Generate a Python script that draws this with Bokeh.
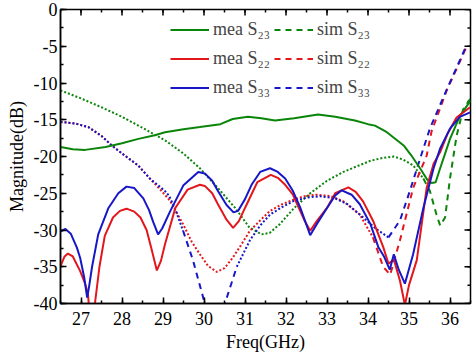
from bokeh.plotting import figure
from bokeh.models import Range1d, FixedTicker, Legend, LegendItem
from bokeh.embed import file_html
from bokeh.resources import INLINE
import numpy as np

# ---------------- data ----------------
mea_S23_f = [26.5, 26.8, 27.1, 27.6, 28.0, 28.4, 28.8, 29.05, 29.5, 29.9, 30.4, 30.7, 31.07, 31.4,
             31.73, 32.2, 32.78, 33.2, 33.68, 34.0, 34.17, 34.46, 34.87, 35.05, 35.27, 35.45, 35.55,
             35.65, 35.76, 35.88, 36.0, 36.24, 36.5]
mea_S23 = [-18.7, -19.0, -19.1, -18.7, -18.2, -17.6, -17.1, -16.7, -16.3, -16.0, -15.6, -14.9, -14.6,
           -14.8, -15.1, -14.8, -14.3, -14.6, -15.1, -15.6, -15.8, -16.7, -18.5, -19.8, -21.6, -23.2,
           -23.6, -23.5, -21.6, -19.6, -17.6, -14.5, -12.4]

mea_S22_f = [26.5, 26.6, 26.68, 26.8, 26.98, 27.1, 27.17, 27.26, 27.34, 27.45, 27.58, 27.78, 27.95,
             28.11, 28.3, 28.45, 28.6, 28.72, 28.85, 28.95, 29.05, 29.3, 29.6, 29.9, 30.02, 30.2, 30.34,
             30.55, 30.71, 30.85, 31.0, 31.3, 31.63, 31.8, 31.98, 32.17, 32.29, 32.45, 32.59, 32.75,
             33.0, 33.2, 33.52, 33.7, 33.88, 34.12, 34.37, 34.5, 34.63, 34.78, 34.9, 35.0, 35.19,
             35.43, 35.6, 35.76, 35.95, 36.16, 36.49]
mea_S22 = [-34.9, -33.6, -33.2, -33.6, -35.6, -37.3, -38.7, -45.0, -40.0, -35.0, -30.8, -28.3, -27.4,
           -27.1, -27.5, -28.3, -30.0, -32.6, -35.5, -34.2, -31.9, -27.0, -24.5, -23.85, -24.0, -25.0,
           -26.5, -28.6, -29.7, -28.8, -27.0, -23.5, -22.5, -22.9, -23.85, -25.2, -26.7, -28.7, -30.1,
           -28.8, -27.0, -25.0, -24.2, -24.8, -26.1, -28.7, -32.3, -34.6, -34.0, -36.9, -40.2, -37.5,
           -34.1, -24.3, -21.0, -19.4, -16.8, -14.7, -13.3]

mea_S33_f = [26.5, 26.62, 26.75, 26.9, 26.98, 27.08, 27.15, 27.2, 27.27, 27.42, 27.67, 27.91, 28.11,
             28.3, 28.52, 28.66, 28.76, 28.88, 28.98, 29.17, 29.5, 29.86, 30.02, 30.2, 30.34, 30.55,
             30.72, 30.83, 31.0, 31.16, 31.37, 31.61, 31.8, 31.98, 32.17, 32.35, 32.59, 32.75, 33.0,
             33.2, 33.36, 33.6, 33.8, 34.06, 34.25, 34.39, 34.53, 34.63, 34.75, 34.9, 35.1, 35.35,
             35.6, 35.76, 36.0, 36.24, 36.49]
mea_S33 = [-30.2, -29.85, -30.5, -32.4, -33.8, -36.5, -39.2, -37.6, -35.0, -30.6, -27.0, -25.0, -24.1,
           -24.3, -25.7, -27.3, -28.9, -30.6, -29.8, -27.5, -23.9, -22.1, -22.3, -23.3, -24.7, -26.6,
           -27.6, -27.4, -25.8, -23.85, -22.1, -21.6, -22.1, -23.0, -24.7, -27.0, -30.7, -29.2, -27.0,
           -25.3, -24.6, -25.2, -26.5, -29.2, -32.3, -33.6, -35.4, -33.3, -35.4, -37.3, -33.3, -27.0,
           -21.6, -18.9, -16.2, -14.6, -14.0]

sim_S23_f = [26.5, 27.0, 27.5, 28.0, 28.5, 29.05, 29.5, 29.9, 30.34, 30.76, 31.1, 31.4, 31.6, 31.85,
             32.2, 32.59, 33.0, 33.4, 33.7, 34.05, 34.35, 34.62, 34.85, 35.1, 35.35, 35.51, 35.67,
             35.76, 35.88, 36.0, 36.16, 36.32, 36.49]
sim_S23 = [-11.0, -12.1, -13.3, -14.6, -16.1, -17.8, -19.6, -21.6, -24.3, -27.0, -29.6, -30.6, -30.4,
           -29.2, -27.0, -25.0, -23.3, -22.1, -21.4, -20.6, -20.2, -20.0, -20.4, -21.2, -23.0, -24.7,
           -27.9, -29.4, -28.3, -23.0, -17.2, -13.6, -12.2]

sim_S22_f = [26.5, 26.85, 27.18, 27.5, 27.75, 28.05, 28.39, 28.68, 28.95, 29.17, 29.49, 29.7, 29.9,
             30.1, 30.31, 30.5, 30.71, 30.92, 31.12, 31.37, 31.61, 31.9, 32.17, 32.45, 32.75, 33.1,
             33.4, 33.8, 34.12, 34.37, 34.54, 34.78, 35.1, 35.43, 35.55, 35.92, 36.2, 36.41]
sim_S22 = [-15.3, -15.5, -16.0, -17.2, -18.5, -19.8, -21.2, -23.0, -24.6, -26.0, -29.2, -31.6, -33.3,
           -34.9, -35.7, -35.2, -33.7, -31.9, -30.1, -28.7, -27.4, -26.5, -25.9, -25.4, -25.2, -25.4,
           -26.1, -27.9, -31.0, -35.0, -36.1, -31.4, -24.3, -19.9, -16.6, -11.0, -7.6, -5.0]

sim_S33_f = [26.5, 26.85, 27.18, 27.5, 27.75, 28.05, 28.39, 28.68, 28.9, 29.09, 29.17, 29.3, 29.49,
             29.73, 30.02, 30.15, 30.27, 30.4, 30.51, 30.8, 31.12, 31.37, 31.61, 31.9, 32.17, 32.5,
             32.83, 33.2, 33.5, 33.8, 34.21, 34.5, 34.78, 35.02, 35.27, 35.51, 35.92, 36.41]
sim_S33 = [-15.3, -15.5, -16.0, -17.2, -18.5, -19.8, -21.2, -23.0, -24.0, -24.9, -25.6, -27.2, -30.1,
           -34.1, -40.0, -44.0, -47.0, -44.0, -40.0, -35.0, -31.4, -29.4, -27.9, -26.9, -26.1, -25.6,
           -25.4, -25.7, -26.5, -27.9, -29.9, -31.0, -28.7, -24.7, -20.3, -16.2, -10.9, -4.8]

# where each simulated trace is drawn dotted / dashed (frequency bounds)
sim_S23_styles = [(26.5, 35.35, "dot"), (35.35, 36.5, "dash")]
sim_S22_styles = [(26.5, 34.12, "dot"), (34.12, 36.5, "dash")]
sim_S33_styles = [(26.5, 29.49, "dot"), (29.49, 30.8, "dash"), (30.8, 34.5, "dot"), (34.5, 36.5, "dash")]

x_ticks = [27, 28, 29, 30, 31, 32, 33, 34, 35, 36]
y_ticks = [0, -5, -10, -15, -20, -25, -30, -35, -40]
X_MIN, X_MAX, Y_MIN, Y_MAX = 26.5, 36.5, -40, 0

GREEN, RED, BLUE = "#0a850a", "#e3161c", "#1717c8"
FONT = "Liberation Serif"
DASHES = {"dot": "2 2", "dash": "6 5"}

p = figure(width=474, height=354, output_backend="svg", toolbar_location=None,
           x_range=Range1d(X_MIN, X_MAX), y_range=Range1d(Y_MIN, Y_MAX),
           min_border_left=60, min_border_right=4, min_border_top=9, min_border_bottom=47)
p.xgrid.visible = False
p.ygrid.visible = False
p.outline_line_color = "black"
p.outline_line_width = 1.5
p.background_fill_color = "white"
p.border_fill_color = "white"

x_minor = list(np.arange(X_MIN, X_MAX + 0.01, 0.5))
y_minor = list(np.arange(Y_MIN, Y_MAX + 0.01, 2.5))


def style_axis(ax):
    ax.axis_line_width = 1.5
    ax.major_tick_in = 6
    ax.major_tick_out = 0
    ax.minor_tick_in = 3
    ax.minor_tick_out = 0
    ax.major_tick_line_width = 1.5
    ax.minor_tick_line_width = 1.5
    ax.major_label_text_font = FONT
    ax.major_label_text_font_size = "18px"
    ax.major_label_text_color = "black"
    ax.axis_label_text_font = FONT
    ax.axis_label_text_font_size = "18px"
    ax.axis_label_text_font_style = "normal"
    ax.axis_label_text_color = "black"


p.xaxis.ticker = FixedTicker(ticks=x_ticks, minor_ticks=x_minor)
p.yaxis.ticker = FixedTicker(ticks=y_ticks, minor_ticks=y_minor)
p.xaxis.axis_label = "Freq(GHz)"
p.yaxis.axis_label = "Magnitude(dB)"
p.xaxis.major_label_overrides = {t: str(t) for t in x_ticks}
p.yaxis.major_label_overrides = {t: str(t) for t in y_ticks}
p.xaxis.major_label_standoff = 8
p.yaxis.major_label_standoff = 3
p.xaxis.axis_label_standoff = 4
p.yaxis.axis_label_standoff = 4
style_axis(p.xaxis[0])
style_axis(p.yaxis[0])

# inward ticks on the top and right frame edges (no labels there)
tick_kw = dict(line_color="black", line_width=1.5, length_units="screen")
p.ray(x=x_ticks, y=[Y_MAX] * len(x_ticks), length=6, angle=-np.pi / 2, **tick_kw)
p.ray(x=x_minor, y=[Y_MAX] * len(x_minor), length=3, angle=-np.pi / 2, **tick_kw)
p.ray(x=[X_MAX] * len(y_ticks), y=y_ticks, length=6, angle=np.pi, **tick_kw)
p.ray(x=[X_MAX] * len(y_minor), y=y_minor, length=3, angle=np.pi, **tick_kw)


def draw_sim(f, v, styles, color):
    f = np.asarray(f)
    v = np.asarray(v)
    rends = {}
    for lo, hi, kind in styles:
        m = (f >= lo - 1e-9) & (f <= hi + 1e-9)
        r = p.line(f[m], v[m], line_color=color, line_width=2, line_dash=DASHES[kind])
        rends[kind] = r
    return rends["dash"]


leg_sim23 = draw_sim(sim_S23_f, sim_S23, sim_S23_styles, GREEN)
leg_sim22 = draw_sim(sim_S22_f, sim_S22, sim_S22_styles, RED)
leg_sim33 = draw_sim(sim_S33_f, sim_S33, sim_S33_styles, BLUE)

r23 = p.line(mea_S23_f, mea_S23, line_color=GREEN, line_width=2)
r22 = p.line(mea_S22_f, mea_S22, line_color=RED, line_width=2)
r33 = p.line(mea_S33_f, mea_S33, line_color=BLUE, line_width=2)


def make_legend(items, loc):
    return Legend(items=items, location=loc, margin=0, padding=0, spacing=0,
                  glyph_width=39, glyph_height=29, label_height=29, label_standoff=4,
                  label_text_font=FONT, label_text_font_size="18px",
                  border_line_color=None, background_fill_alpha=0)


leg1 = make_legend([LegendItem(label="mea S\u2082\u2083", renderers=[r23]),
                    LegendItem(label="mea S\u2082\u2082", renderers=[r22]),
                    LegendItem(label="mea S\u2083\u2083", renderers=[r33])], (110, 201))
leg2 = make_legend([LegendItem(label="sim S\u2082\u2083", renderers=[leg_sim23]),
                    LegendItem(label="sim S\u2082\u2082", renderers=[leg_sim22]),
                    LegendItem(label="sim S\u2083\u2083", renderers=[leg_sim33])], (214, 201))
p.add_layout(leg1)
p.add_layout(leg2)

open("out.html", "w").write(file_html(p, INLINE))
